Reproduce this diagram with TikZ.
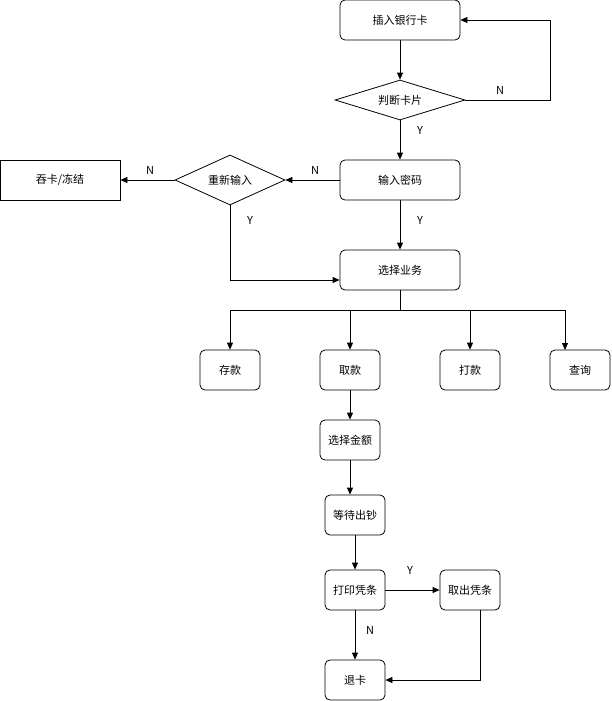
\documentclass[tikz,border=0pt]{standalone}
\usepackage{fontspec}
\setmainfont{Noto Sans CJK SC}
\usetikzlibrary{shapes.geometric,arrows.meta}
\begin{document}
\begin{tikzpicture}[x=1pt,y=-1pt,line width=0.8pt,
  box/.style={draw,rounded corners=5pt,minimum width=#1,minimum height=40pt,inner sep=0pt,font=\fontsize{11}{13}\selectfont},
  box/.default=120pt,
  dia/.style={draw,diamond,aspect=2.6,minimum width=130pt,minimum height=40pt,inner sep=0pt,font=\fontsize{11}{13}\selectfont},
  arr/.style={draw,-{Triangle[length=7pt,width=6pt]}},
  lab/.style={font=\fontsize{11}{13}\selectfont}]
\useasboundingbox (0,0) rectangle (611,701);
\node[box] (insert) at (400,20) {插入银行卡};
\node[dia] (judge) at (400,100) {判断卡片};
\node[box] (pwd) at (400,180) {输入密码};
\node[dia,minimum width=110pt,minimum height=50pt,aspect=2.2] (retry) at (230,180) {重新输入};
\node[box,rounded corners=0pt] (eat) at (60,180) {吞卡/冻结};
\node[box] (sel) at (400,270) {选择业务};
\node[box=60pt] (dep) at (230,370) {存款};
\node[box=60pt] (wd) at (350,370) {取款};
\node[box=60pt] (tr) at (470,370) {打款};
\node[box=60pt] (q) at (580,370) {查询};
\node[box=60pt] (amt) at (350,440) {选择金额};
\node[box=60pt] (wait) at (355,515) {等待出钞};
\node[box=60pt] (print) at (355,590) {打印凭条};
\node[box=60pt] (take) at (470,590) {取出凭条};
\node[box=60pt] (back) at (355,680) {退卡};
\coordinate (j) at (400,310);
\draw[arr] (insert) -- (judge);
\draw[arr] (judge.east) -- (550,100) -- (550,20) -- (insert.east);
\node[lab] at (500,90) {N};
\draw[arr] (judge) -- (pwd);
\node[lab] at (420,130) {Y};
\draw[arr] (pwd) -- (retry);
\node[lab] at (315,170) {N};
\draw[arr] (retry) -- (eat);
\node[lab] at (150,170) {N};
\draw[arr] (retry.south) -- (230,280) -- (sel.west |- 0,280);
\node[lab] at (250,220) {Y};
\draw[arr] (pwd) -- (sel);
\node[lab] at (420,220) {Y};
\draw (sel.south) -- (j);
\draw[arr] (j) -| (dep.north);
\draw[arr] (j) -| (wd.north);
\draw[arr] (j) -| (tr.north);
\draw[arr] (j) -| (565,350);
\draw[arr] (wd) -- (amt);
\draw[arr] (amt.south) -- (amt.south |- wait.north);
\draw[arr] (wait) -- (print);
\draw[arr] (print) -- (take);
\node[lab] at (410,570) {Y};
\draw[arr] (print) -- (back);
\node[lab] at (370,630) {N};
\draw[arr] (take.south -| 480,0) -- (480,680) -- (back.east);
\end{tikzpicture}
\end{document}
